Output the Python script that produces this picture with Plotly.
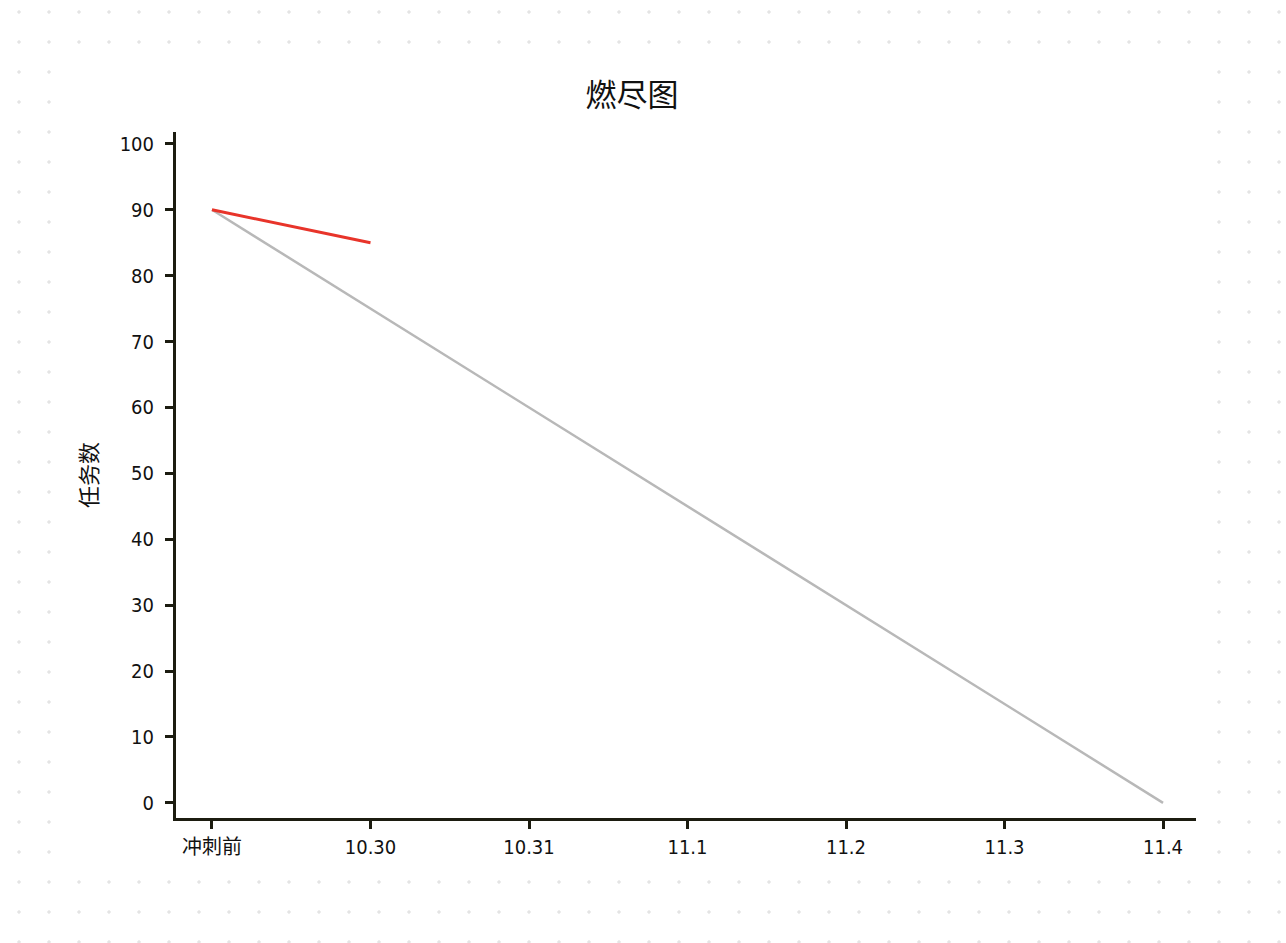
import plotly.graph_objects as go

categories = ["冲刺前", "10.30", "10.31", "11.1", "11.2", "11.3", "11.4"]
ideal_values = [90, 75, 60, 45, 30, 15, 0]
actual_values = [90, 85]
y_ticks = [0, 10, 20, 30, 40, 50, 60, 70, 80, 90, 100]

W, H = 1286, 943
L, R, T, B = 176, 1196, 132, 818
pw, ph = R - L, B - T

def px(x):
    return (x - L) / pw

def py(y):
    return (B - y) / ph

AX = "#1c1c10"
TXT = "#111111"
FONT = "DejaVu Sans Condensed, Noto Sans CJK SC, sans-serif"

fig = go.Figure()
fig.add_trace(go.Scatter(
    x=categories, y=ideal_values, mode="lines",
    line=dict(color="#b8b8b8", width=2.5), name="理想",
))
fig.add_trace(go.Scatter(
    x=categories[:len(actual_values)], y=actual_values, mode="lines",
    line=dict(color="#e8342a", width=3), name="实际",
))

fig.add_shape(type="rect", xref="paper", yref="paper",
              x0=px(62), x1=px(1212), y0=py(868), y1=py(58),
              fillcolor="white", line=dict(width=0), layer="below")

fig.update_layout(
    width=W, height=H,
    margin=dict(l=L, r=W - R, t=T, b=H - B, pad=0),
    paper_bgcolor="rgba(0,0,0,0)",
    plot_bgcolor="rgba(0,0,0,0)",
    showlegend=False,
    font=dict(family=FONT, size=20, color=TXT),
    title=dict(text="燃尽图", x=px(632), xref="paper", xanchor="center",
               y=1 - 95 / H, yref="container", yanchor="middle",
               font=dict(family="Noto Sans CJK SC, sans-serif", size=31, color=TXT)),
    xaxis=dict(
        type="category", categoryorder="array", categoryarray=categories,
        range=[-0.227, 6.208],
        showline=True, linecolor=AX, linewidth=3,
        ticks="outside", ticklen=8, tickwidth=2.5, tickcolor=AX,
        showgrid=False, zeroline=False,
        tickfont=dict(family=FONT, size=20, color=TXT),
        ticklabelstandoff=1,
    ),
    yaxis=dict(
        range=[-2.3, 101.8], tickvals=y_ticks,
        showline=True, linecolor=AX, linewidth=3,
        ticks="outside", ticklen=8, tickwidth=2.5, tickcolor=AX,
        showgrid=False, zeroline=False,
        tickfont=dict(family=FONT, size=20, color=TXT),
        ticklabelstandoff=7,
        title=dict(text="任务数", standoff=16,
                   font=dict(family="Noto Sans CJK SC, sans-serif", size=22, color=TXT)),
    ),
)

post = """
document.body.style.margin='0';
document.body.style.background='radial-gradient(circle, #e4e4e4 1.4px, rgba(255,255,255,0) 1.9px) 4px -3px / 30px 30px, #ffffff';
"""

fig.write_html("out.html", post_script=post, config={"displayModeBar": False})
